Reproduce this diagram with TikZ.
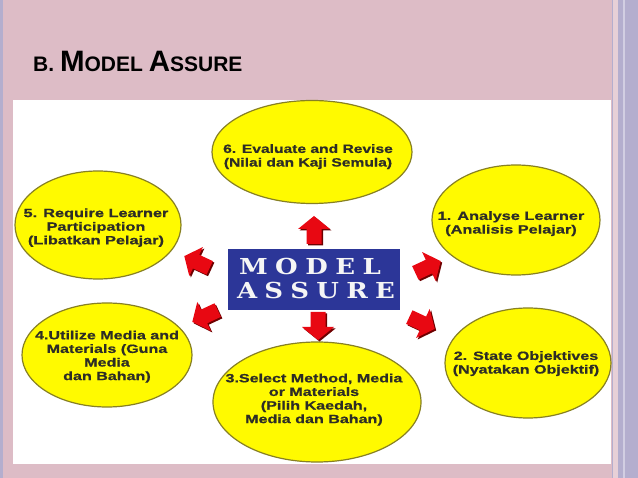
\documentclass[tikz,border=0pt]{standalone}
\usepackage{fontspec}
\usepackage{graphicx}
\newfontfamily\arb{Liberation Sans}
\newfontfamily\arbb{Liberation Sans}[UprightFont={* Bold}, FakeBold=0.7]
\newfontfamily\wserif{DejaVu Serif}[UprightFont={* Bold}, FakeStretch=1.18]
\usetikzlibrary{shapes.geometric}
\definecolor{bgpink}{RGB}{221,188,198}
\definecolor{lav}{RGB}{180,174,206}
\definecolor{ellfill}{RGB}{255,250,0}
\definecolor{elldraw}{RGB}{135,128,35}
\definecolor{txtc}{RGB}{45,45,38}
\definecolor{boxblue}{RGB}{44,54,152}
\definecolor{arrred}{RGB}{232,8,18}
\definecolor{arrdark}{RGB}{110,0,0}
\newcommand{\etx}[2]{\scalebox{#1}[1]{\begin{tabular}{@{}c@{}}#2\end{tabular}}}
\newcommand{\blockarrow}[3]{%
  \fill[arrdark,shift={(#1+1.5,#2+1.5)},rotate=#3] (-14,-7.5) -- (1,-7.5) -- (1,-16) -- (14,0) -- (1,16) -- (1,7.5) -- (-14,7.5) -- cycle;
  \fill[arrred,shift={(#1,#2)},rotate=#3] (-14,-7.5) -- (1,-7.5) -- (1,-16) -- (14,0) -- (1,16) -- (1,7.5) -- (-14,7.5) -- cycle;}
\tikzset{
  ell/.style={ellipse, draw=elldraw, line width=1.2pt, fill=ellfill, inner sep=0pt},
  etxt/.style={inner sep=0pt, text=txtc, font=\arbb\fontsize{12}{13.6}\selectfont},
  mtxt/.style={inner sep=0pt, text=white!92!gray, font=\wserif\fontsize{22}{22}\selectfont},
}
\begin{document}
\begin{tikzpicture}[x=1pt,y=-1pt]
\useasboundingbox (0,0) rectangle (638,478);
\fill[bgpink] (0,0) rectangle (638,478);
\fill[lav] (0,0) rectangle (2.5,478);
\fill[lav] (611.5,0) rectangle (613,478);
\fill[bgpink!70!white] (613,0) rectangle (618,478);
\fill[lav] (618,0) rectangle (638,478);
\fill[lav!60!white] (623,0) rectangle (625,478);
\fill[white] (13,100) rectangle (611,464);
\node[anchor=base west, inner sep=0pt, font=\arb\bfseries] (title) at (33,72)
  {{\fontsize{21}{21}\selectfont B. }{\fontsize{29.5}{29.5}\selectfont M}{\fontsize{21}{21}\selectfont ODEL }{\fontsize{29.5}{29.5}\selectfont A}{\fontsize{21}{21}\selectfont SSURE}};
% ellipses
\node[ell, minimum width=200pt, minimum height=103pt] (e6) at (312,152) {};
\node[ell, minimum width=166pt, minimum height=108pt] (e5) at (98,225) {};
\node[ell, minimum width=168pt, minimum height=110pt] (e1) at (516,220) {};
\node[ell, minimum width=170pt, minimum height=104pt] (e4) at (107,355) {};
\node[ell, minimum width=208pt, minimum height=120pt] (e3) at (317,402) {};
\node[ell, minimum width=166pt, minimum height=110pt] (e2) at (528,363) {};
% texts
\node[etxt] (t6) at (308,157) {\etx{1.3}{6. Evaluate and Revise\\(Nilai dan Kaji Semula)}};
\node[etxt] (t5) at (96,228) {\etx{1.36}{5. Require Learner\\Participation\\(Libatkan Pelajar)}};
\node[etxt] (t1) at (511,224) {\etx{1.36}{1. Analyse Learner\\(Analisis Pelajar)}};
\node[etxt] (t4) at (107,357) {\etx{1.34}{4.Utilize Media and\\Materials (Guna\\Media\\dan Bahan)}};
\node[etxt] (t3) at (314,400) {\etx{1.34}{3.Select Method, Media\\or Materials\\(Pilih Kaedah,\\Media dan Bahan)}};
\node[etxt] (t2) at (526,364) {\etx{1.34}{2. State Objektives\\(Nyatakan Objektif)}};
% center box
\node[fill=boxblue, minimum width=172pt, minimum height=61pt, inner sep=0pt] (box) at (314,279.5) {};
\node[mtxt] (m1) at (310,266) {\makebox[142pt][s]{M\hfill O\hfill D\hfill E\hfill L}};
\node[mtxt] (m2) at (316,290) {\makebox[158pt][s]{A\hfill S\hfill S\hfill U\hfill R\hfill E}};
% arrows
\blockarrow{314}{230}{90}
\blockarrow{318}{326}{270}
\blockarrow{197}{262}{155}
\blockarrow{205}{316}{205}
\blockarrow{428}{267}{25}
\blockarrow{422}{323}{335}
\end{tikzpicture}
\end{document}
